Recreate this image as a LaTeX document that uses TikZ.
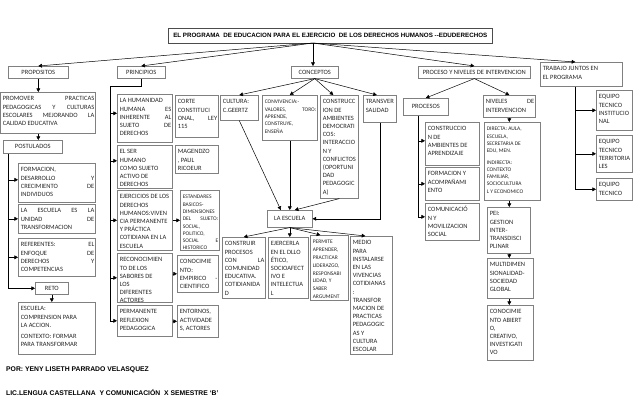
\documentclass[tikz,border=0pt]{standalone}
\usepackage{fontspec}
\usepackage{graphicx}
\setmainfont{Carlito}
\newfontfamily\arialf{Liberation Sans}
\usetikzlibrary{arrows.meta,calc}
\tikzset{
  bx/.style={draw=black!50, line width=0.6pt, inner sep=0pt, anchor=north west, fill=white, text=black!85},
  sbx/.style={draw=black!50, line width=0.6pt, inner sep=0pt, anchor=north west, fill=white, text=black!85, align=center, font=\fontsize{6.5}{7}\selectfont},
  cn/.style={line width=0.5pt, draw=black},
  ar/.style={cn, -{Triangle[length=3.6pt,width=3.8pt]}},
  bottomtxt/.style={anchor=west, inner sep=0pt, text=black, font=\arialf\bfseries\fontsize{6.8}{8}\selectfont}
}
\newcommand\nrmf{\fontsize{6.5}{8.2}\selectfont}
\newcommand\smf{\fontsize{5.5}{7.3}\selectfont}
% #1 font, #2 name, #3 x1, #4 y1, #5 x2, #6 y2, #7 text
\newcommand\bx[7][\nrmf]{%
  \node[bx] (#2) at (#3,#4) {\parbox[t][\dimexpr #6pt-#4pt\relax][t]{\dimexpr #5pt-#3pt\relax}{\parindent=0pt\leftskip=2.5pt\rightskip=1pt plus 1fil\parfillskip=0pt #1\rule{0pt}{8.5pt}#7}};}
\begin{document}
\begin{tikzpicture}[x=1pt,y=-1pt]
\useasboundingbox (0,0) rectangle (638,413);

% title
\node[draw=black!70, line width=0.6pt, minimum width=324pt, minimum height=15pt, anchor=north west, inner sep=0pt] (title) at (168,28)
  {\resizebox{314pt}{!}{\arialf\bfseries EL PROGRAMA~ DE EDUCACION PARA EL EJERCICIO~ DE LOS DERECHOS HUMANOS {-}{-}EDUDERECHOS}};
\coordinate (hub) at (313,43);

% left column
\node[sbx, minimum width=60pt, minimum height=12pt] (prop) at (8,66) {PROPOSITOS};
\bx{prom}{0}{92}{95}{133}{PROMOVER\hfill PRACTICAS\\PEDAGOGICAS\hfill Y\hfill CULTURAS\\ESCOLARES\hfill MEJORANDO\hfill LA\\CALIDAD EDUCATIVA}
\node[sbx, minimum width=59pt, minimum height=13pt] (post) at (3,140) {POSTULADOS};
\bx{form}{18}{163}{95}{202}{FORMACION,\\DESARROLLO\hfill Y\\CRECIMIENTO\hfill DE\\INDIVIDUOS}
\bx{lae}{18}{204}{95}{233}{LA\hfill ESCUELA\hfill ES\hfill LA\\UNIDAD\hfill DE\\TRANSFORMACION}
\bx{ref}{18}{238}{95}{276}{REFERENTES:\hfill EL\\ENFOQUE\hfill DE\\DERECHOS\hfill Y\\COMPETENCIAS}
\node[sbx, minimum width=33pt, minimum height=12pt] (reto) at (35,282) {RETO};
\bx{esc}{18}{302}{95}{354}{ESCUELA:\\COMPRENSION PARA\\LA ACCION.\\[3pt]CONTEXTO: FORMAR\\PARA TRANSFORMAR}

% principios
\node[sbx, minimum width=48pt, minimum height=12pt] (princ) at (117,66) {PRINCIPIOS};
\bx{hum}{117}{94}{172}{142}{LA HUMANIDAD\\HUMANA\hfill ES\\INHERENTE\hfill AL\\SUJETO\hfill DE\\DERECHOS}
\bx{corte}{175}{95}{218}{137}{CORTE\\CONSTITUCI\\ONAL,\hfill LEY\\115}
\bx{ser}{117}{145}{172}{188}{EL SER\\HUMANO\\COMO SUJETO\\ACTIVO DE\\DERECHOS}
\bx{mag}{175}{145}{218}{173}{MAGENDZO\\, PAUL\\RICOEUR}
\bx{ejer}{117}{190}{172}{250}{EJERCICIOS DE LOS\\DERECHOS\\HUMANOS:VIVEN\\CIA PERMANENTE\\Y PRÁCTICA\\COTIDIANA EN LA\\ESCUELA}
\bx[\smf]{est}{180}{190}{219}{250}{ESTANDARES\\BASICOS-\\DIMENSIONES\\DEL\hfill SUJETO:\\SOCIAL,\\POLITICO,\\SOCIAL\hfill E\\HISTORICO}
\bx{recon}{117}{253}{172}{302}{RECONOCIMIEN\\TO DE LOS\\SABORES DE\\LOS\\DIFERENTES\\ACTORES}
\bx{conoc}{177}{255}{218}{292}{CONOCIMIE\\NTO:\\EMPIRICO\hfill -\\CIENTIFICO}
\bx{perm}{117}{305}{172}{336}{PERMANENTE\\REFLEXION\\PEDAGOGICA}
\bx{ent}{177}{305}{218}{337}{ENTORNOS,\\ACTIVIDADE\\S, ACTORES}

% conceptos
\node[sbx, minimum width=47pt, minimum height=12pt] (conc) at (291,66) {CONCEPTOS};
\bx{cult}{220}{95}{258}{120}{CULTURA:\\C.GEERTZ}
\bx[\smf]{conv}{262}{95}{317}{140}{CONVIVENCIA:-\\VALORES,\hfill TORO:\\APRENDE,\\CONSTRUYE,\\ENSEÑA}
\bx{cons}{320}{95}{358}{198}{CONSTRUCC\\ION DE\\AMBIENTES\\DEMOCRATI\\COS:\\INTERACCIO\\N Y\\CONFLICTOS\\(OPORTUNI\\DAD\\PEDAGOGIC\\A)}
\bx{trans}{363}{95}{396}{122}{TRANSVER\\SALIDAD}
\node[sbx, minimum width=45pt, minimum height=17pt] (lesc) at (267,210) {LA ESCUELA};
\bx{cons2}{222}{237}{265}{298}{CONSTRUIR\\PROCESOS\\CON\hfill LA\\COMUNIDAD\\EDUCATIVA.\\COTIDIANIDA\\D}
\bx{ejla}{268}{237}{308}{298}{EJERCERLA\\EN EL DLLO\\ÉTICO,\\SOCIOAFECT\\IVO E\\INTELECTUA\\L}
\bx[\fontsize{5.5}{7.8}\selectfont]{perm2}{310}{235}{348}{300}{PERMITE\\APRENDER,\\PRACTICAR\\LIDERAZGO,\\RESPONSABI\\LIDAD, Y\\SABER\\ARGUMENT}
\bx{medio}{350}{236}{392}{354}{MEDIO\\PARA\\INSTALARSE\\EN LAS\\VIVENCIAS\\COTIDIANAS\\:\\TRANSFOR\\MACION DE\\PRACTICAS\\PEDAGOGIC\\AS Y\\CULTURA\\ESCOLAR}

% proceso
\node[sbx, minimum width=112pt, minimum height=12pt] (proc) at (418,66) {PROCESO Y NIVELES DE INTERVENCION};
\node[sbx, minimum width=45pt, minimum height=17pt] (procs) at (403,98) {PROCESOS};
\bx{cab}{425}{122}{479}{165}{CONSTRUCCIO\\N DE\\AMBIENTES DE\\APRENDIZAJE}
\bx{fya}{425}{167}{479}{200}{FORMACION Y\\ACOMPAÑAMI\\ENTO}
\bx{com}{425}{203}{479}{240}{COMUNICACIÓ\\N Y\\MOVILIZACION\\SOCIAL}
\bx{niv}{483}{95}{535}{117}{NIVELES\hfill DE\\INTERVENCION}
\bx[\smf]{dir}{484}{122}{540}{200}{DIRECTA: AULA,\\ESCUELA,\\SECRETARIA DE\\EDU, MEN.\\[4pt]INDIRECTA:\\CONTEXTO\\FAMILIAR,\\SOCIOCULTURA\\L Y ECONOMICO}
\bx{pei}{487}{207}{530}{253}{PEI:\\GESTION\\INTER-\\TRANSDISCI\\PLINAR}
\bx{mul}{487}{258}{533}{298}{MULTIDIMEN\\SIONALIDAD-\\SOCIEDAD\\GLOBAL}
\bx{cab2}{487}{305}{533}{360}{CONOCIMIE\\NTO ABIERT\\O,\\CREATIVO,\\INVESTIGATI\\VO}

% trabajo
\bx{trab}{540}{62}{622}{86}{TRABAJO JUNTOS EN\\EL PROGRAMA}
\bx{eq1}{596}{90}{632}{130}{EQUIPO\\TECNICO\\INSTITUCIO\\NAL}
\bx{eq2}{596}{135}{632}{172}{EQUIPO\\TECNICO\\TERRITORIA\\LES}
\bx{eq3}{596}{178}{632}{200}{EQUIPO\\TECNICO}

% bottom texts
\node[bottomtxt] (por) at (6,370) {POR: YENY LISETH PARRADO VELASQUEZ};
\node[bottomtxt] (lic) at (6,393) {LIC.LENGUA CASTELLANA~ Y COMUNICACIÓN~ X SEMESTRE ‘B’};

% ---- connectors
\draw[ar] (hub) -- (prop.north);
\draw[ar] (hub) -- (princ.north);
\draw[ar] (hub) -- (hub |- conc.north);
\draw[ar] (hub) -- (proc.north);
\draw[ar] (hub) -- ([xshift=-6pt]trab.north);

% left
\draw[ar] (prop.south) -- (prop.south |- prom.north);
\draw[ar] (prop.south |- prom.south) -- (prop.south |- post.north);
\coordinate (lsp) at ([xshift=5pt]post.south west);
\draw[cn] (lsp) -- (lsp |- reto.west);
\draw[ar] ([yshift=3pt]form.west -| lsp) -- ([yshift=3pt]form.west);
\draw[ar] (lae.west -| lsp) -- (lae.west);
\draw[ar] (ref.west -| lsp) -- (ref.west);
\draw[ar] (reto.west -| lsp) -- (reto.west);
\draw[ar] (reto.south) -- (reto.south |- esc.north);

% principios
\coordinate (psp) at ([xshift=-7pt,yshift=-8pt]princ.south west);
\draw[cn] (princ.south) |- (psp) -- (perm.west -| psp);
\draw[ar] ([yshift=5pt]hum.west -| psp) -- ([yshift=5pt]hum.west);
\draw[ar] ([yshift=6pt]ser.west -| psp) -- ([yshift=6pt]ser.west);
\draw[ar] (ejer.west -| psp) -- (ejer.west);
\draw[ar] (recon.west -| psp) -- (recon.west);
\draw[ar] (perm.west -| psp) -- (perm.west);
\draw[ar] (ejer.east) -- (ejer.east -| est.west);
\draw[ar] (recon.east |- conoc.west) -- (conoc.west);
\draw[ar] (perm.east |- ent.west) -- (ent.west);

% conceptos
\draw[ar] (conc.south) -- (cult.north);
\draw[ar] (conc.south) -- (conv.north);
\draw[ar] (conc.south) -- ([xshift=-6pt]cons.north);
\draw[ar] (conc.south) -- ([xshift=-3pt]trans.north);
\draw[ar] (cult.south) -- ([xshift=-9pt]lesc.north);
\draw[ar] (conv.south) -- (conv.south |- lesc.north);
\draw[ar] (cons.south) -- ([xshift=5pt]lesc.north);
\draw[ar] (trans.south) |- (lesc.east);
\draw[ar] (lesc.south) -- (cons2.north);
\draw[ar] (lesc.south) -- (lesc.south |- ejla.north);
\draw[ar] (lesc.south) -- ([xshift=-9pt]perm2.north);
\draw[ar] (lesc.south) -- ([xshift=-6pt]medio.north);

% proceso
\draw[ar] (proc.south) -- (procs.north);
\draw[ar] (proc.south) -- (niv.north);
\coordinate (qsp) at ([xshift=15pt]procs.south west);
\draw[cn] (qsp) -- ([yshift=5pt]com.west -| qsp);
\draw[ar] ([yshift=3pt]cab.west -| qsp) -- ([yshift=3pt]cab.west);
\draw[ar] (fya.west -| qsp) -- (fya.west);
\draw[ar] ([yshift=5pt]com.west -| qsp) -- ([yshift=5pt]com.west);
\draw[ar] (niv.south) -- (niv.south |- dir.north);
\draw[ar] (dir.south -| niv.south) -- (niv.south |- pei.north);
\draw[ar] (niv.south |- pei.south) -- (niv.south |- mul.north);
\draw[ar] (niv.south |- mul.south) -- (niv.south |- cab2.north);

% trabajo
\coordinate (tsp) at ([xshift=35pt]trab.south west);
\draw[cn] (tsp) -- (tsp |- eq3.west);
\draw[ar] (tsp |- eq1.west) -- (eq1.west);
\draw[ar] (tsp |- eq2.west) -- (eq2.west);
\draw[ar] (tsp |- eq3.west) -- (eq3.west);
\end{tikzpicture}
\end{document}
